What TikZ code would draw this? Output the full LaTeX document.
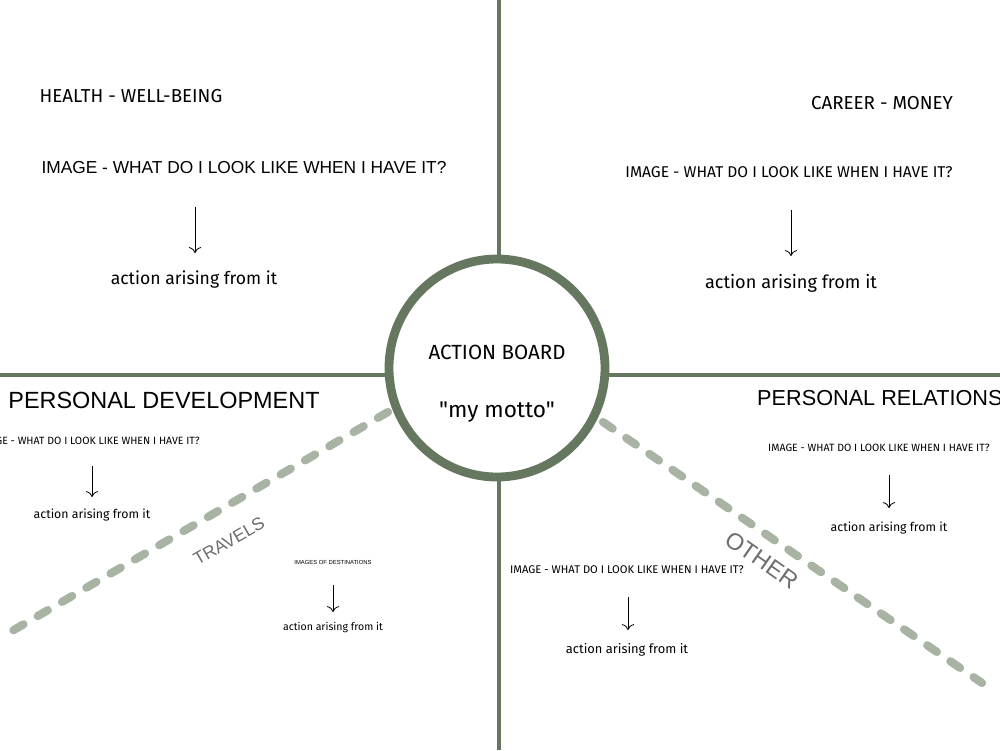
\documentclass[tikz,border=0pt]{standalone}
\usepackage{fontspec}
\usetikzlibrary{arrows.meta}
\setmainfont{Liberation Sans}
\newfontfamily\hand{Fira Sans}
\definecolor{dk}{HTML}{66775F}
\definecolor{lt}{HTML}{A8B3A3}
\definecolor{gr}{HTML}{6E6E6E}
\newcommand{\fs}[1]{\fontsize{#1}{#1}\selectfont}
\begin{document}
\begin{tikzpicture}[x=0.03cm,y=-0.03cm,
  ln/.style={draw=dk,line width=3pt},
  dsh/.style={draw=lt,line width=7pt,line cap=round,dash pattern=on 10pt off 14pt},
  arr/.style={-{To[length=5pt]},line width=0.7pt},
  t/.style={inner sep=0,text=black}]
\useasboundingbox (0,0) rectangle (1000,750);
\clip (0,0) rectangle (1000,750);
\fill[white] (0,0) rectangle (1000,750);
\coordinate (v1) at (499,0); \coordinate (v2) at (499,255);
\coordinate (v3) at (499,480); \coordinate (v4) at (499,750);
\coordinate (h1) at (0,375); \coordinate (h2) at (385,375);
\coordinate (h3) at (605,375); \coordinate (h4) at (1000,375);
\draw[ln] (v1)--(v2); \draw[ln] (v3)--(v4);
\draw[ln] (h1)--(h2); \draw[ln] (h3)--(h4);
\coordinate (d1) at (388,412); \coordinate (d2) at (0,638);
\coordinate (d3) at (603,422); \coordinate (d4) at (982,683);
\draw[dsh] (d1)--(d2); \draw[dsh] (d3)--(d4);
\draw[draw=dk,line width=7.5pt,fill=white] (497,368) ellipse [x radius=108,y radius=109];
% top left
\node[t] (hw) at (131,96) {\hand\fs{16}HEALTH - WELL-BEING};
\node[t] (i1) at (244,168) {\fs{14.8}IMAGE - WHAT DO I LOOK LIKE WHEN I HAVE IT?};
\node[t] (a1) at (194,280) {\hand\fs{15}action arising from it};
\coordinate (p1) at (195,207); \coordinate (q1) at (195,253);
\draw[arr] (p1)--(q1);
% top right
\node[t] (cm) at (882,103) {\hand\fs{16}CAREER - MONEY};
\node[t] (i2) at (789,172) {\hand\fs{13.3}IMAGE - WHAT DO I LOOK LIKE WHEN I HAVE IT?};
\node[t] (a2) at (791,283) {\hand\fs{15.5}action arising from it};
\coordinate (p2) at (791,210); \coordinate (q2) at (791,256);
\draw[arr] (p2)--(q2);
% center
\node[t] (ab) at (497,352) {\hand\fs{17.5}ACTION BOARD};
\node[t] (mm) at (497,412) {\hand\fs{19.3}"my motto"};
% bottom left
\node[t] (pd) at (164,400) {\fs{20}PERSONAL DEVELOPMENT};
\node[t,anchor=east] (i3) at (200,441) {\hand\fs{9}IMAGE - WHAT DO I LOOK LIKE WHEN I HAVE IT?};
\coordinate (p3) at (92,466); \coordinate (q3) at (92,497);
\draw[arr] (p3)--(q3);
\node[t] (a3) at (92,515) {\hand\fs{10.5}action arising from it};
\node[t,text=gr,rotate=30] (tr) at (229,541) {\fs{15}TRAVELS};
\node[t] (id) at (333,562) {\fs{5}IMAGES OF DESTINATIONS};
\coordinate (p4) at (333,585); \coordinate (q4) at (333,612);
\draw[arr] (p4)--(q4);
\node[t] (a4) at (333,628) {\hand\fs{9}action arising from it};
% bottom right
\node[t,anchor=west] (pr) at (757,398) {\fs{18.5}PERSONAL RELATIONS};
\node[t,anchor=west] (i5) at (768,448) {\hand\fs{9}IMAGE - WHAT DO I LOOK LIKE WHEN I HAVE IT?};
\coordinate (p5) at (889,475); \coordinate (q5) at (889,508);
\draw[arr] (p5)--(q5);
\node[t] (a5) at (889,528) {\hand\fs{10.5}action arising from it};
\node[t,text=gr,rotate=-35] (ot) at (762,560) {\fs{20}OTHER};
\node[t] (i6) at (627,570) {\hand\fs{9.5}IMAGE - WHAT DO I LOOK LIKE WHEN I HAVE IT?};
\coordinate (p6) at (628,597); \coordinate (q6) at (628,630);
\draw[arr] (p6)--(q6);
\node[t] (a6) at (627,650) {\hand\fs{11}action arising from it};
\end{tikzpicture}
\end{document}
